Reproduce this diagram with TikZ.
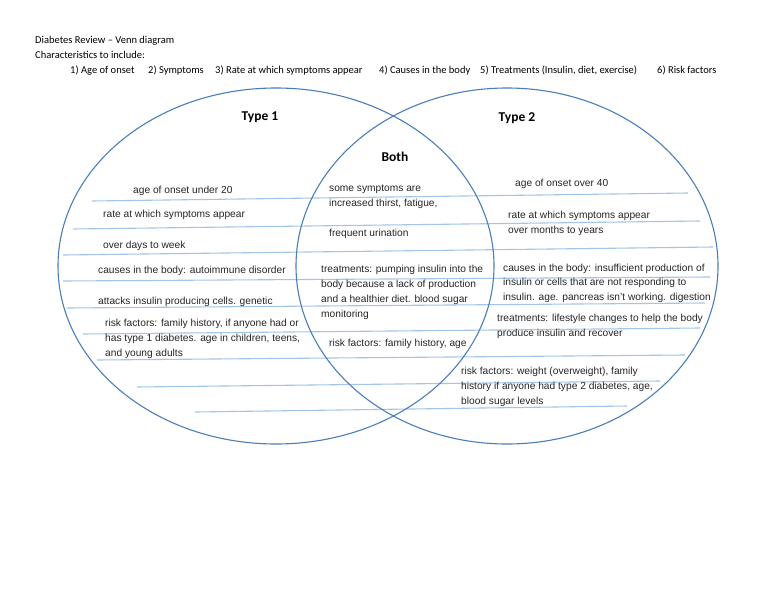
\documentclass[tikz,border=0pt]{standalone}
\usepackage{fontspec}
\setmainfont{Liberation Sans}
\newfontfamily\calib[Ligatures=TeX]{Carlito}
\definecolor{circ}{HTML}{4A7EBB}
\definecolor{rulecol}{HTML}{A3C6E8}
\begin{document}
\begin{tikzpicture}[x=1pt,y=-1pt,
  body/.style={anchor=base west, inner sep=0pt, align=left, font=\fontsize{10.2}{15}\selectfont, text=black!85},
  head/.style={anchor=base west, inner sep=0pt, font=\calib\fontsize{10.5}{12}\selectfont},
  ttl/.style={anchor=base, inner sep=0pt, font=\calib\bfseries\fontsize{13.5}{16}\selectfont},
  ruling/.style={draw=rulecol, line width=1.1pt},
  venn/.style={draw=circ, line width=1.1pt}]
\useasboundingbox[fill=white] (0,0) rectangle (768,594);
% header
\node[head] (h1) at (35,44) {Diabetes Review – Venn diagram};
\node[head] (h2) at (35,58.5) {Characteristics to include:};
\node[head] (c1) at (70,73.5) {1) Age of onset};
\node[head] (c2) at (148,73.5) {2) Symptoms};
\node[head] (c3) at (215,73.5) {3) Rate at which symptoms appear};
\node[head] (c4) at (379,73.5) {4) Causes in the body};
\node[head] (c5) at (480,73.5) {5) Treatments (Insulin, diet, exercise)};
\node[head] (c6) at (657,73.5) {6) Risk factors};
% ruled lines
\draw[ruling] (92,201) -- (688,193);
\draw[ruling] (73,229) -- (700,221);
\draw[ruling] (63,255) -- (713,247);
\draw[ruling] (63,281) -- (710,277);
\draw[ruling] (67,308) -- (705,303);
\draw[ruling] (83,334) -- (700,328);
\draw[ruling] (97,360) -- (685,355);
\draw[ruling] (137,387) -- (660,381);
\draw[ruling] (195,412) -- (627,406);
% circles
\draw[venn] (276,266) ellipse [x radius=218pt, y radius=178pt];
\draw[venn] (507,266) ellipse [x radius=211pt, y radius=178pt];
% titles
\node[ttl] (t1) at (260,120) {Type 1};
\node[ttl] (t2) at (517,121) {Type 2};
\node[ttl] (tb) at (395,161) {Both};
% left
\node[body] (l1) at (133,193.5) {age of onset under 20};
\node[body] (l2) at (103,217.5) {rate at which symptoms appear};
\node[body] (l3) at (103,248.5) {over days to week};
\node[body] (l4) at (98,273.5) {causes in the body: autoimmune disorder};
\node[body] (l5) at (98,304.5) {attacks insulin producing cells. genetic};
\node[body] (l6) at (105,356.5) {risk factors: family history, if anyone had or\\has type 1 diabetes. age in children, teens,\\and young adults};
% middle
\node[body] (m1) at (329,206.5) {some symptoms are\\increased thirst, fatigue,};
\node[body] (m2) at (329,236.5) {frequent urination};
\node[body] (m3) at (321,317.5) {treatments: pumping insulin into the\\body because a lack of production\\and a healthier diet. blood sugar\\monitoring};
\node[body] (m4) at (329,346.5) {risk factors: family history, age};
% right
\node[body] (r1) at (515,186.5) {age of onset over 40};
\node[body] (r2) at (508,233.5) {rate at which symptoms appear\\over months to years};
\node[body, font=\fontsize{10.2}{14.6}\selectfont] (r3) at (503,300.5) {causes in the body: insufficient production of\\insulin or cells that are not responding to\\insulin. age. pancreas isn't working. digestion};
\node[body] (r4) at (497,336.5) {treatments: lifestyle changes to help the body\\produce insulin and recover};
\node[body] (r5) at (461,404.5) {risk factors: weight (overweight), family\\history if anyone had type 2 diabetes, age,\\blood sugar levels};
\end{tikzpicture}
\end{document}
